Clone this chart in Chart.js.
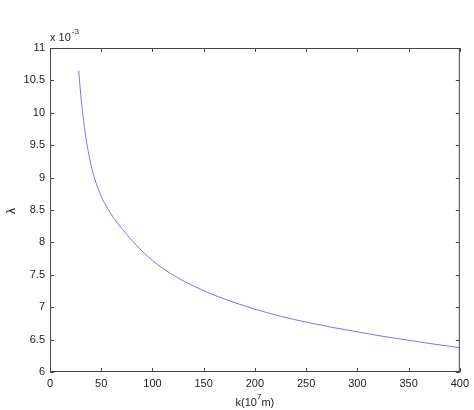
<!DOCTYPE html>
<html>
<head>
<meta charset="utf-8">
<script src="https://cdn.jsdelivr.net/npm/chart.js@4"></script>
<style>
  html, body { margin: 0; padding: 0; background: #fff; }
  #wrap { width: 474px; height: 410px; }
</style>
</head>
<body>
<div id="wrap"><canvas id="lambdaChart" width="474" height="410"></canvas></div>
<script>
// k (10^7 m) 与 λ (10^-3)
const kValues = [28, 30, 32, 35, 38, 42, 46, 50, 56, 62, 68, 75, 80, 90, 100, 110, 125, 140, 155, 175, 200, 225, 250, 275, 300, 325, 350, 375, 400];
const lambdaValues = [10.65, 10.28, 9.98, 9.62, 9.35, 9.07, 8.87, 8.71, 8.53, 8.38, 8.255, 8.12, 8.03, 7.865, 7.72, 7.60, 7.45, 7.33, 7.22, 7.10, 6.97, 6.86, 6.77, 6.69, 6.62, 6.55, 6.49, 6.43, 6.375];
const xTicks = [0, 50, 100, 150, 200, 250, 300, 350, 400];
const yTicks = [6, 6.5, 7, 7.5, 8, 8.5, 9, 9.5, 10, 10.5, 11];

const FONT = '"Liberation Sans", Arial, sans-serif';

// 边框、内向刻度和坐标轴文字
const framePlugin = {
    id: 'frame',
    afterDraw(chart) {
        const ctx = chart.ctx;
        const a = chart.chartArea;
        const xs = chart.scales.x;
        const ys = chart.scales.y;
        ctx.save();
        ctx.strokeStyle = '#444';
        ctx.lineWidth = 1;
        ctx.strokeRect(a.left + 0.5, a.top + 0.5, a.right - a.left - 1, a.bottom - a.top - 1);
        ctx.beginPath();
        xTicks.forEach(v => {
            const px = Math.round(xs.getPixelForValue(v)) + 0.5;
            ctx.moveTo(px, a.bottom); ctx.lineTo(px, a.bottom - 4);
            ctx.moveTo(px, a.top); ctx.lineTo(px, a.top + 4);
        });
        yTicks.forEach(v => {
            const py = Math.round(ys.getPixelForValue(v)) + 0.5;
            ctx.moveTo(a.left, py); ctx.lineTo(a.left + 4, py);
            ctx.moveTo(a.right, py); ctx.lineTo(a.right - 4, py);
        });
        ctx.stroke();

        ctx.fillStyle = '#222';
        // x 10^-3
        ctx.font = '11px ' + FONT;
        ctx.textAlign = 'left';
        ctx.textBaseline = 'middle';
        ctx.fillText('x 10', a.left, 38);
        let w = ctx.measureText('x 10').width;
        ctx.font = '8px ' + FONT;
        ctx.fillText('-3', a.left + w + 1, 32);

        // k(10^7m)
        ctx.font = '11px ' + FONT;
        const p1 = 'k(10', p2 = 'm)';
        const w1 = ctx.measureText(p1).width;
        ctx.font = '8px ' + FONT;
        const wSup = ctx.measureText('7').width;
        ctx.font = '11px ' + FONT;
        const w2 = ctx.measureText(p2).width;
        const cx = (a.left + a.right) / 2;
        let sx = cx - (w1 + wSup + w2) / 2;
        ctx.fillText(p1, sx, 403);
        ctx.font = '8px ' + FONT;
        ctx.fillText('7', sx + w1, 397);
        ctx.font = '11px ' + FONT;
        ctx.fillText(p2, sx + w1 + wSup, 403);

        // λ
        ctx.translate(12, 211);
        ctx.rotate(-Math.PI / 2);
        ctx.textAlign = 'center';
        ctx.font = '12px ' + FONT;
        ctx.fillText('λ', 0, 0);
        ctx.restore();
    }
};

function initLambdaChart() {
    const ctx = document.getElementById('lambdaChart').getContext('2d');
    new Chart(ctx, {
        type: 'scatter',
        data: {
            datasets: [{
                data: kValues.map((k, i) => ({ x: k, y: lambdaValues[i] })),
                showLine: true,
                borderColor: 'rgb(118,118,245)',
                borderWidth: 1,
                pointRadius: 0,
                cubicInterpolationMode: 'monotone'
            }]
        },
        options: {
            responsive: false,
            animation: false,
            layout: { padding: { top: 48, right: 12, left: 0, bottom: 0 } },
            plugins: { legend: { display: false }, tooltip: { enabled: false } },
            scales: {
                x: {
                    type: 'linear',
                    min: 0,
                    max: 400,
                    afterBuildTicks: s => { s.ticks = xTicks.map(v => ({ value: v })); },
                    afterFit: s => { s.height = 38; },
                    grid: { display: false, drawTicks: false },
                    border: { display: false },
                    ticks: {
                        color: '#222',
                        font: { family: FONT, size: 11 },
                        padding: 5,
                        maxRotation: 0,
                        callback: v => String(v)
                    }
                },
                y: {
                    min: 6,
                    max: 11,
                    afterBuildTicks: s => { s.ticks = yTicks.map(v => ({ value: v })); },
                    afterFit: s => { s.width = 50; },
                    grid: { display: false, drawTicks: false },
                    border: { display: false },
                    ticks: {
                        color: '#222',
                        font: { family: FONT, size: 11 },
                        padding: 5,
                        callback: v => String(v)
                    }
                }
            }
        },
        plugins: [framePlugin]
    });
}

document.addEventListener('DOMContentLoaded', initLambdaChart);
</script>
</body>
</html>
